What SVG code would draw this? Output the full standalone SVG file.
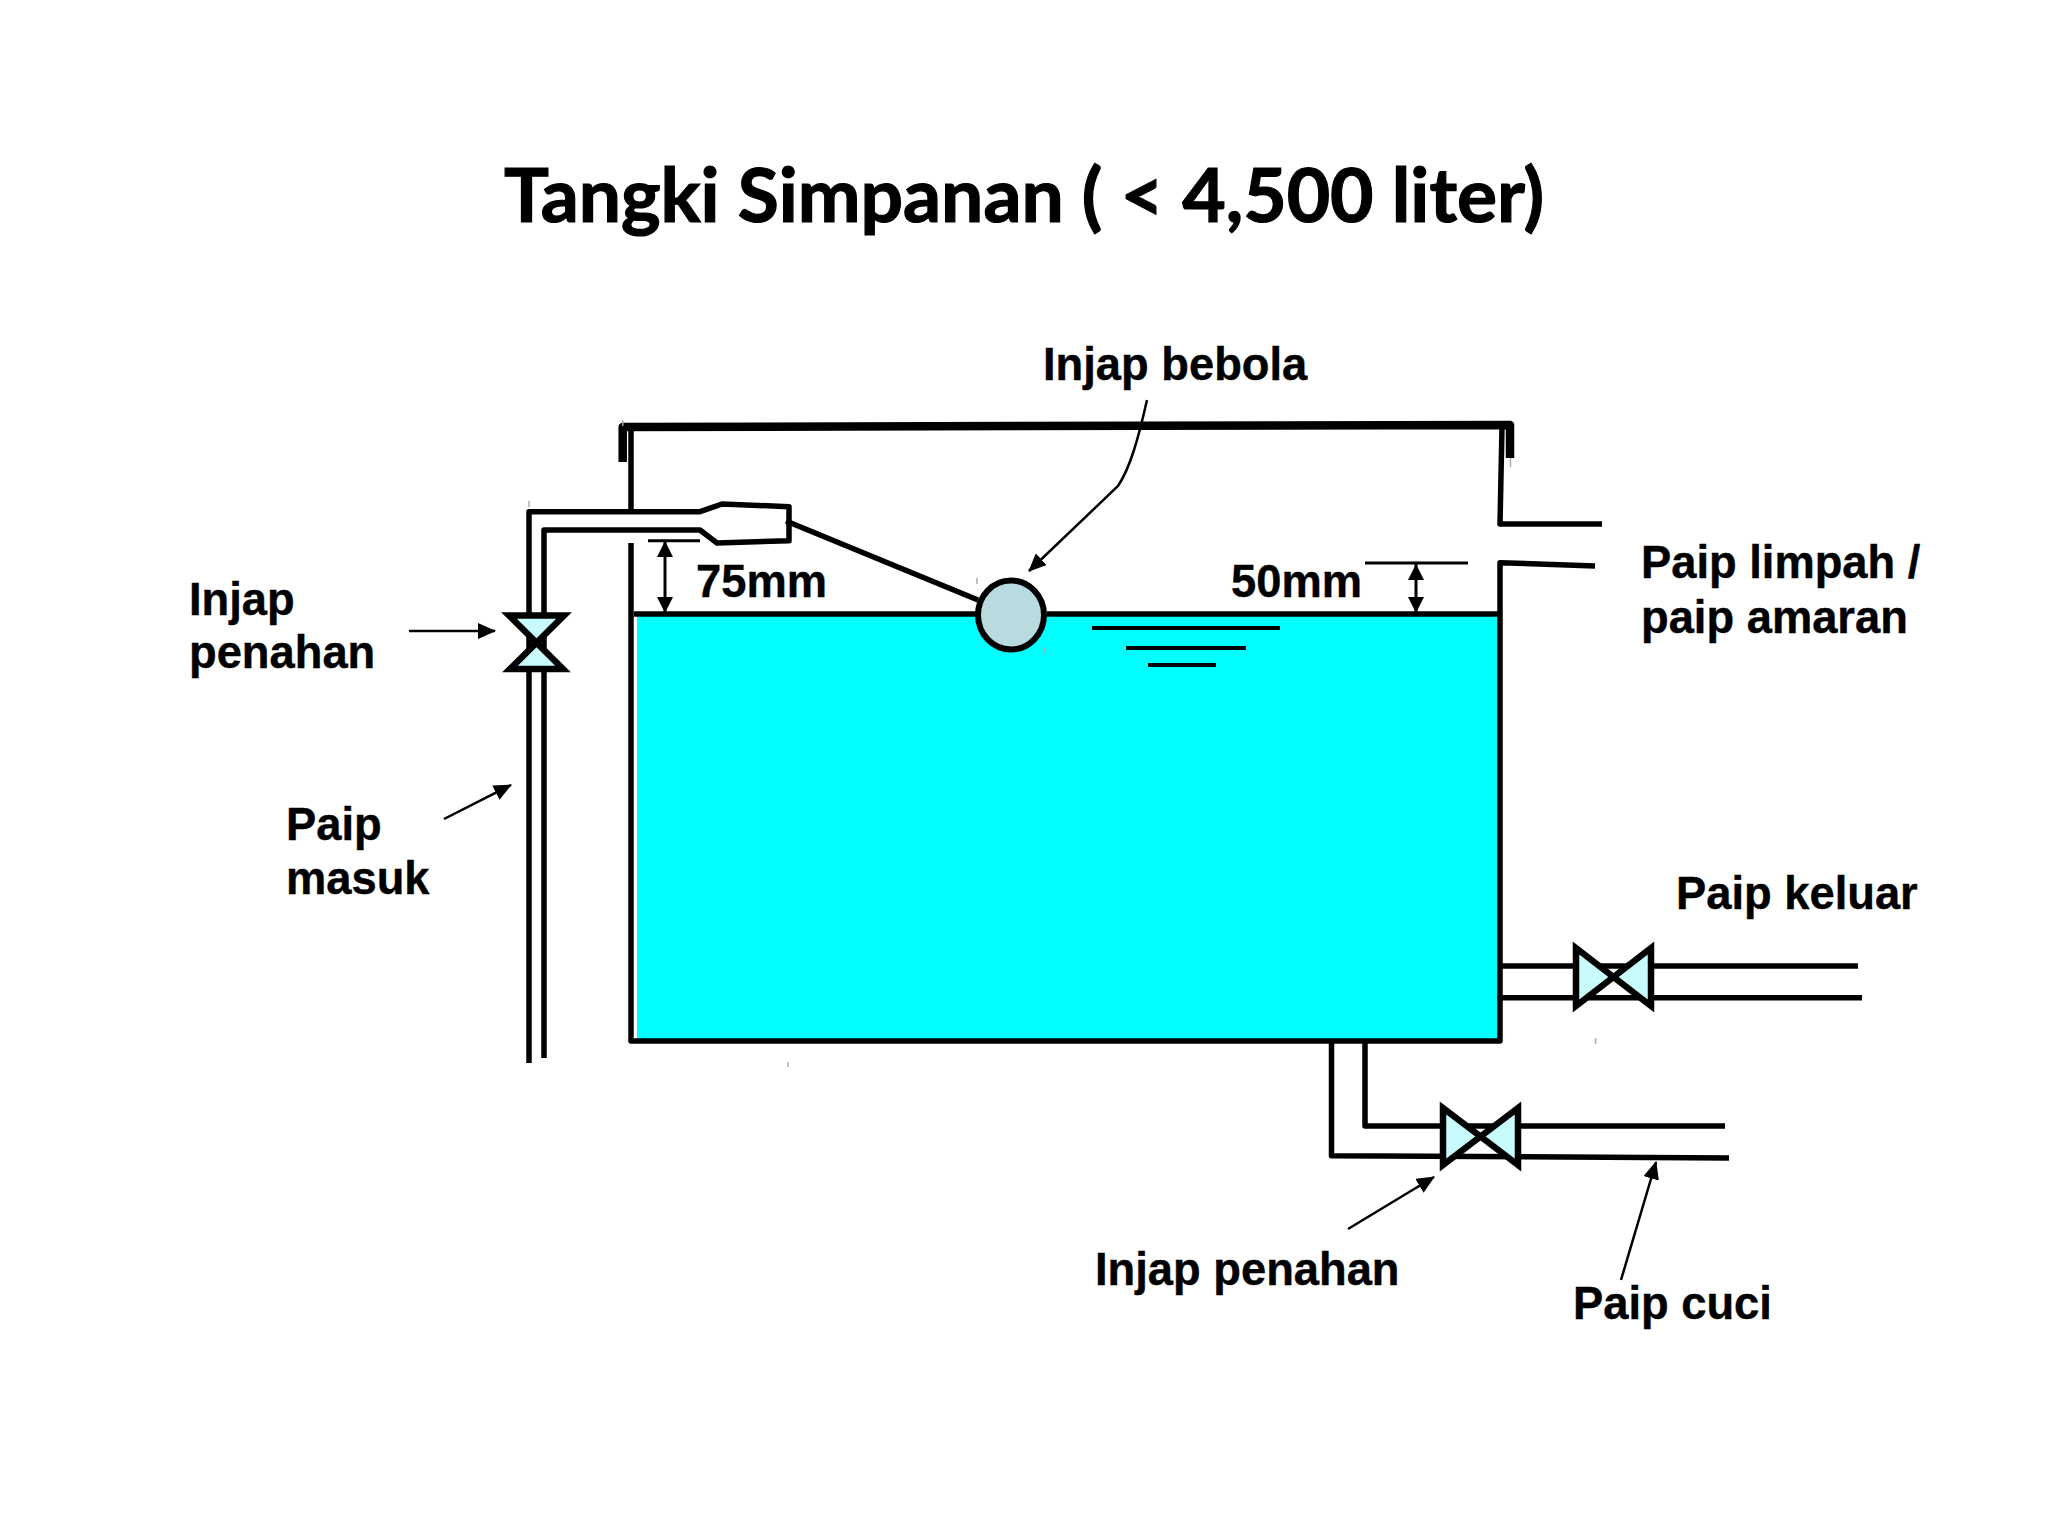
<svg xmlns="http://www.w3.org/2000/svg" width="2048" height="1536" viewBox="0 0 2048 1536">
<style>
.lbl{font-family:"Liberation Sans",Arial,sans-serif;font-weight:700;font-size:45.3px;fill:#000;stroke:#000;stroke-width:.4}
.title{font-family:Lato,"Open Sans",sans-serif;font-weight:700;font-size:75px;fill:#000;stroke:#000;stroke-width:1.2}
.pipe{fill:none;stroke:#000;stroke-width:5.5;stroke-linejoin:round}
.lid{fill:none;stroke:#000;stroke-width:8.5;stroke-linejoin:round}
.thin{fill:none;stroke:#000;stroke-width:2.5}
.dim{fill:none;stroke:#000;stroke-width:3}
.valve{fill:#c8fcfc;stroke:#000;stroke-width:6.5;stroke-linejoin:miter}
.art{stroke:#aaa;stroke-width:1.5}
</style>
<defs>
<marker id="arr" markerUnits="userSpaceOnUse" markerWidth="18" markerHeight="16" refX="17" refY="8" orient="auto"><path d="M0 0L18 8L0 16Z" fill="#000"/></marker>
<marker id="dimE" markerUnits="userSpaceOnUse" markerWidth="16" markerHeight="16" refX="16" refY="8" orient="auto"><path d="M0 0L16 8L0 16Z" fill="#000"/></marker>
<marker id="dimS" markerUnits="userSpaceOnUse" markerWidth="16" markerHeight="16" refX="0" refY="8" orient="auto"><path d="M16 0L0 8L16 16Z" fill="#000"/></marker>
</defs>
<rect width="2048" height="1536" fill="#fff"/>
<text class="title" x="504" y="222" textLength="1040" lengthAdjust="spacing">Tangki Simpanan ( &lt; 4,500 liter)</text>

<g id="tank">
<rect x="637" y="614" width="863" height="425" fill="#00ffff"/>
<path class="lid" d="M622.7 462V427L1510 425V458"/>
<path class="pipe" d="M631 427V512M1502 427L1500 524H1602M1595 566L1500 562.7V1041H631V543"/>
<path class="pipe" d="M634 614H977M1047 614H1500"/>
<path d="M1092 628H1280M1126 648H1246M1148 665H1216" fill="none" stroke="#000" stroke-width="4"/>
</g>

<g id="connectors">
<path class="pipe" d="M529 1063V511.7H700L722 504L789 506.7V540.7L717 543L700 530H544V1058"/>
<path class="pipe" d="M1331.5 1041V1155.7L1729 1158M1365 1041V1126H1725"/>
<path class="pipe" d="M1497 997.7H1862M1501 966H1858"/>
<path class="pipe" d="M786 521L978 600"/>
<path class="thin" d="M1147 400C1138 440 1130 468 1118 486L1029 571" marker-end="url(#arr)"/>
<path class="thin" d="M409 631H495" marker-end="url(#arr)"/>
<path class="thin" d="M444 819L511 785" marker-end="url(#arr)"/>
<path class="thin" d="M1348 1229L1434 1177" marker-end="url(#arr)"/>
<path class="thin" d="M1621 1280L1656 1162" marker-end="url(#arr)"/>
</g>

<g id="dim-75mm">
<path class="dim" d="M648 540.7H700"/>
<path class="dim" d="M665 541V613" marker-start="url(#dimS)" marker-end="url(#dimE)"/>
<text class="lbl" x="696" y="597">75mm</text>
</g>
<g id="dim-50mm">
<path class="dim" d="M1365 563H1468"/>
<path class="dim" d="M1416 564V613" marker-start="url(#dimS)" marker-end="url(#dimE)"/>
<text class="lbl" x="1231" y="597">50mm</text>
</g>

<g id="ball"><ellipse cx="1011" cy="615" rx="33" ry="34.5" fill="#b9dbe0" stroke="#000" stroke-width="6"/></g>
<g id="valve-inlet"><path class="valve" d="M509 615.5H564L510 669H563Z"/></g>
<g id="valve-outlet"><path class="valve" d="M1576 948V1006L1651 948V1006Z"/></g>
<g id="valve-wash"><path class="valve" d="M1443 1108V1165L1518 1108V1165Z"/></g>

<g id="labels">
<text class="lbl" x="1043" y="380">Injap bebola</text>
<text class="lbl" x="189" y="615">Injap</text>
<text class="lbl" x="189" y="668">penahan</text>
<text class="lbl" x="286" y="840">Paip</text>
<text class="lbl" x="286" y="894">masuk</text>
<text class="lbl" x="1641" y="578">Paip limpah /</text>
<text class="lbl" x="1641" y="633">paip amaran</text>
<text class="lbl" x="1676" y="909">Paip keluar</text>
<text class="lbl" x="1095" y="1285">Injap penahan</text>
<text class="lbl" x="1573" y="1319">Paip cuci</text>
</g>
<path class="art" d="M529 501V507M622.7 420V426M977 578V584M1045 647V653M1510.5 458V467M788 1062V1067M1595.6 1038V1044"/>
</svg>
